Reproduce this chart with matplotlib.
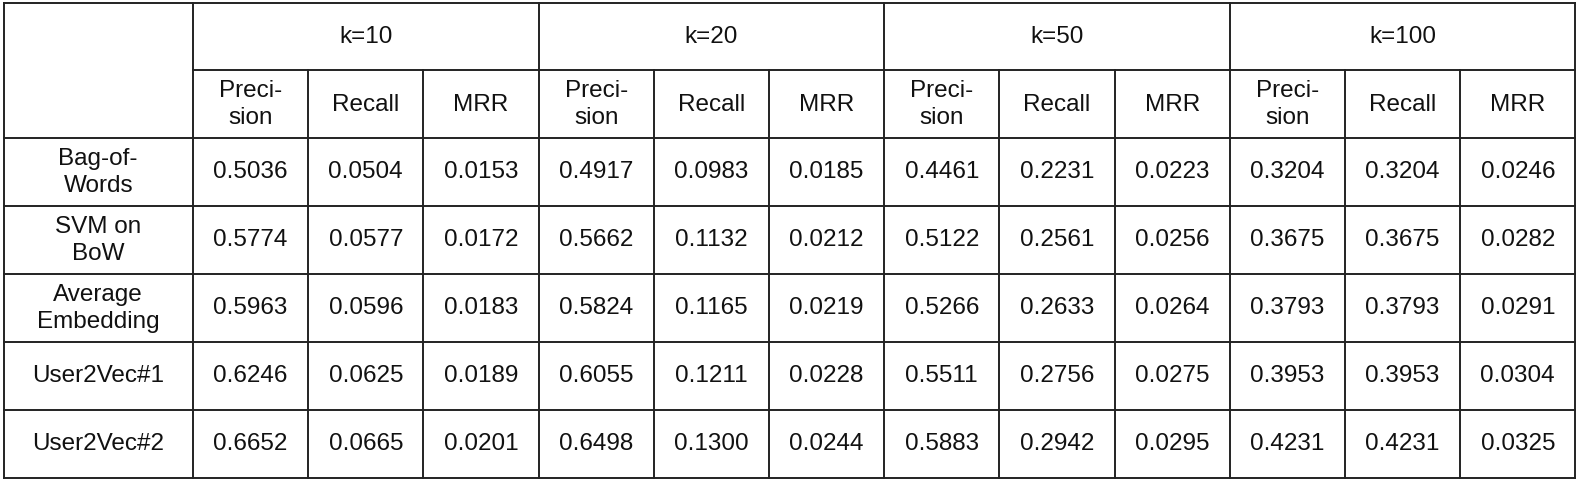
import matplotlib
matplotlib.use("Agg")
import matplotlib.pyplot as plt

plt.rcParams['font.family'] = ['Liberation Sans', 'DejaVu Sans']

# ---- data ----
k_values = ["k=10", "k=20", "k=50", "k=100"]
metrics = ["Preci-\nsion", "Recall", "MRR"]
methods = ["Bag-of-\nWords", "SVM on\nBoW", "Average\nEmbedding", "User2Vec#1", "User2Vec#2"]

k10 = [[0.5036, 0.0504, 0.0153],
       [0.5774, 0.0577, 0.0172],
       [0.5963, 0.0596, 0.0183],
       [0.6246, 0.0625, 0.0189],
       [0.6652, 0.0665, 0.0201]]
k20 = [[0.4917, 0.0983, 0.0185],
       [0.5662, 0.1132, 0.0212],
       [0.5824, 0.1165, 0.0219],
       [0.6055, 0.1211, 0.0228],
       [0.6498, 0.1300, 0.0244]]
k50 = [[0.4461, 0.2231, 0.0223],
       [0.5122, 0.2561, 0.0256],
       [0.5266, 0.2633, 0.0264],
       [0.5511, 0.2756, 0.0275],
       [0.5883, 0.2942, 0.0295]]
k100 = [[0.3204, 0.3204, 0.0246],
        [0.3675, 0.3675, 0.0282],
        [0.3793, 0.3793, 0.0291],
        [0.3953, 0.3953, 0.0304],
        [0.4231, 0.4231, 0.0325]]
blocks = [k10, k20, k50, k100]

# ---- layout (pixels) ----
W, H = 1582, 481
x0 = 3.5
first_w = 189.5
sub_w = 115.2
y_top = 3.5
krow_h = 67.5
hdr_h = 67.5
row_h = 68.0
fs = 17.5
lc = "#222222"
lw = 1.4
tc = "#111111"
ls = 1.3

fig = plt.figure(figsize=(W / 100, H / 100), dpi=100)
ax = fig.add_axes([0, 0, 1, 1])
ax.set_xlim(0, W)
ax.set_ylim(H, 0)
ax.axis("off")

n_sub = len(k_values) * len(metrics)
x_first = x0 + first_w
x_end = x_first + n_sub * sub_w
y_k = y_top + krow_h
y_hdr = y_k + hdr_h
y_end = y_hdr + len(methods) * row_h

def hline(y, xa, xb):
    ax.plot([xa, xb], [y, y], color=lc, lw=lw, solid_capstyle="projecting")

def vline(x, ya, yb):
    ax.plot([x, x], [ya, yb], color=lc, lw=lw, solid_capstyle="projecting")

# outer + structure
hline(y_top, x0, x_end)
hline(y_k, x_first, x_end)
hline(y_hdr, x0, x_end)
for i in range(1, len(methods) + 1):
    hline(y_hdr + i * row_h, x0, x_end)
vline(x0, y_top, y_end)
vline(x_first, y_top, y_end)
for j in range(1, n_sub + 1):
    if j % len(metrics) == 0:
        vline(x_first + j * sub_w, y_top, y_end)
    else:
        vline(x_first + j * sub_w, y_k, y_end)

# header texts
for b, k in enumerate(k_values):
    cx = x_first + (b + 0.5) * len(metrics) * sub_w
    ax.text(cx, (y_top + y_k) / 2, k, ha="center", va="center", fontsize=fs,
            color=tc)
    for m, met in enumerate(metrics):
        cx = x_first + (b * len(metrics) + m + 0.5) * sub_w
        ax.text(cx, (y_k + y_hdr) / 2, met, ha="center", va="center", fontsize=fs,
                linespacing=ls, color=tc)

# rows
for r, name in enumerate(methods):
    cy = y_hdr + (r + 0.5) * row_h
    ax.text(x0 + first_w / 2, cy, name, ha="center", va="center", fontsize=fs,
            linespacing=ls, color=tc)
    for b, block in enumerate(blocks):
        for m in range(len(metrics)):
            cx = x_first + (b * len(metrics) + m + 0.5) * sub_w
            ax.text(cx, cy, f"{block[r][m]:.4f}", ha="center", va="center",
                    fontsize=fs, color=tc)

fig.savefig("out.png", dpi=100, facecolor="white")
